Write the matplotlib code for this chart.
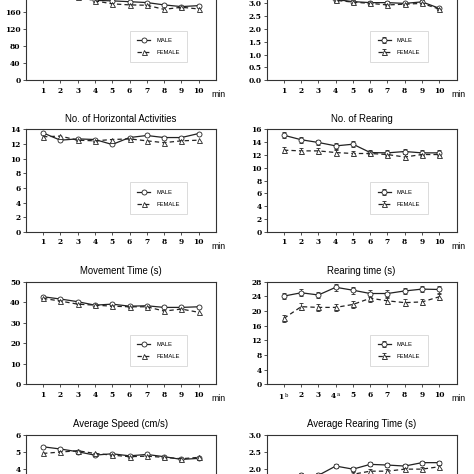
import matplotlib
matplotlib.use('Agg')
import matplotlib.pyplot as plt
import numpy as np

plt.rcParams['mathtext.fontset'] = 'dejavuserif'

minutes = [1, 2, 3, 4, 5, 6, 7, 8, 9, 10]
xtick_labels = ['1', '2', '3', '4', '5', '6', '7', '8', '9', '10']
xtick_labels_rt = ['1$^{\\ \\mathrm{b}}$', '2', '3', '4$^{\\ \\mathrm{a}}$', '5', '6', '7', '8', '9', '10']

# Row 1 (titles cropped out of view)
r1l_male = [218, 210, 200, 187, 186, 184, 182, 176.5, 172.5, 174.8]
r1l_female = [212, 205, 196, 186, 179, 176.5, 175.7, 166, 171, 167]

r1r_male = [3.6, 3.45, 3.32, 3.15, 3.07, 3.03, 3.03, 3.0, 3.06, 2.81]
r1r_female = [3.55, 3.4, 3.3, 3.12, 3.05, 3.0, 2.94, 2.97, 3.0, 2.78]
r1r_err = [0.08, 0.08, 0.08, 0.08, 0.06, 0.06, 0.06, 0.06, 0.06, 0.05]

# No. of Horizontal Activities
ha_male = [13.54, 12.54, 12.72, 12.63, 11.95, 12.9, 13.18, 12.9, 12.9, 13.45]
ha_female = [13.0, 13.1, 12.54, 12.45, 12.63, 12.72, 12.45, 12.2, 12.45, 12.54]

# No. of Rearing
nr_male = [15.1, 14.4, 13.97, 13.44, 13.7, 12.4, 12.35, 12.56, 12.35, 12.35]
nr_female = [12.77, 12.66, 12.66, 12.4, 12.25, 12.25, 12.09, 11.7, 12.09, 12.09]
nr_err = [0.45, 0.45, 0.45, 0.45, 0.45, 0.45, 0.45, 0.45, 0.45, 0.45]

# Movement Time (s)
mt_male = [42.7, 41.6, 40.3, 38.6, 39.1, 38.1, 38.3, 37.5, 37.5, 37.8]
mt_female = [41.9, 40.6, 39.1, 38.6, 38.1, 37.8, 37.8, 35.7, 36.7, 35.1]

# Rearing time (s)
rt_male = [24.1, 25.0, 24.4, 26.5, 25.7, 24.8, 24.8, 25.5, 26.0, 25.9]
rt_female = [18.0, 21.2, 21.0, 21.0, 21.8, 23.5, 22.8, 22.3, 22.5, 23.9]
rt_err = [0.9, 0.9, 0.9, 0.9, 0.9, 0.9, 0.9, 0.9, 0.9, 0.9]

# Average Speed (cm/s)
as_male = [5.31, 5.18, 5.02, 4.82, 4.9, 4.78, 4.86, 4.73, 4.57, 4.63]
as_female = [4.92, 5.0, 5.08, 4.92, 4.82, 4.73, 4.76, 4.69, 4.61, 4.69]

# Average Rearing Time (s)
art_male = [1.7, 1.83, 1.82, 2.09, 2.0, 2.14, 2.12, 2.09, 2.19, 2.19]
art_female = [1.6, 1.78, 1.7, 1.75, 1.85, 1.94, 1.94, 2.0, 2.0, 2.07]
art_err = [0.06, 0.06, 0.06, 0.06, 0.06, 0.06, 0.06, 0.06, 0.06, 0.06]

W = H = 474.0
fig = plt.figure(figsize=(4.74, 4.74), dpi=100)

col_x = [(25.7, 216.0), (266.7, 456.5)]
row_top = [-22.2, 129.5, 281.8, 435.0]
AX_H = 102.4

TICKFONT = dict(family='DejaVu Serif', weight='bold', size=5.4)
LINE_C = '#222222'


def make_ax(row, col):
    x0, x1 = col_x[col]
    top = row_top[row]
    return fig.add_axes([x0 / W, 1 - (top + AX_H) / H, (x1 - x0) / W, AX_H / H])


def draw(ax, male, female, ylim, ystep, yfmt, title=None, err=None,
         xlabels=xtick_labels, legend=True, label_range=None, show_x=True):
    if err is not None:
        ax.errorbar(minutes, male, yerr=err, color=LINE_C, lw=0.9, marker='o',
                    ms=3.6, mfc='white', mec=LINE_C, mew=0.6, capsize=1.6,
                    elinewidth=0.5, capthick=0.5, label='MALE', zorder=3)
        ax.errorbar(minutes, female, yerr=err, color=LINE_C, lw=0.9, ls=(0, (3.5, 2.5)),
                    marker='^', ms=3.6, mfc='white', mec=LINE_C, mew=0.6,
                    capsize=1.6, elinewidth=0.5, capthick=0.5, label='FEMALE', zorder=3)
    else:
        ax.plot(minutes, male, color=LINE_C, lw=0.9, marker='o', ms=3.6,
                mfc='white', mec=LINE_C, mew=0.6, label='MALE', zorder=3)
        ax.plot(minutes, female, color=LINE_C, lw=0.9, ls=(0, (3.5, 2.5)), marker='^',
                ms=3.6, mfc='white', mec=LINE_C, mew=0.6, label='FEMALE', zorder=3)
    ax.set_xlim(0, 11)
    ax.set_ylim(*ylim)
    ax.set_xticks(minutes)
    if show_x:
        ax.set_xticklabels(xlabels, fontdict=TICKFONT)
    else:
        ax.set_xticklabels([])
    yt = np.arange(ylim[0], ylim[1] + ystep / 2, ystep)
    ax.set_yticks(yt)
    lo, hi = label_range if label_range else (ylim[0], ylim[1])
    ax.set_yticklabels([yfmt.format(v) if lo - 1e-9 <= v <= hi + 1e-9 else ''
                        for v in yt], fontdict=TICKFONT)
    ax.tick_params(axis='both', direction='out', length=2.2, width=0.6, pad=1.5,
                   color='#333333')
    ax.tick_params(axis='x', pad=2.5)
    for s in ax.spines.values():
        s.set_linewidth(0.8)
        s.set_color('#333333')
    if title:
        ax.set_title(title, family='Liberation Sans', fontsize=6.9, pad=5.5)
    if show_x:
        ax.annotate('min', xy=(1.0, 0), xycoords='axes fraction', xytext=(1.5, -7.0),
                    textcoords='offset points', ha='center', va='top',
                    family='Liberation Sans', fontsize=6.3)
    if legend:
        leg = ax.legend(loc='lower right', bbox_to_anchor=(0.848, 0.173),
                        borderaxespad=0, prop=dict(family='Liberation Sans', size=4.2),
                        frameon=True, fancybox=False, handlelength=2.2,
                        handletextpad=1.0, borderpad=1.3, labelspacing=1.1,
                        numpoints=1)
        leg.get_frame().set_edgecolor('#cccccc')
        leg.get_frame().set_linewidth(0.6)


ax = make_ax(0, 0)
draw(ax, r1l_male, r1l_female, (0, 240), 40, '{:.0f}', label_range=(0, 160))
ax = make_ax(0, 1)
draw(ax, r1r_male, r1r_female, (0, 4.0), 0.5, '{:.1f}', err=r1r_err, label_range=(0, 3.0))

ax = make_ax(1, 0)
draw(ax, ha_male, ha_female, (0, 14), 2, '{:.0f}', title='No. of Horizontal Activities')
ax = make_ax(1, 1)
draw(ax, nr_male, nr_female, (0, 16), 2, '{:.0f}', title='No. of Rearing', err=nr_err)

ax = make_ax(2, 0)
draw(ax, mt_male, mt_female, (0, 50), 10, '{:.0f}', title='Movement Time (s)')
ax = make_ax(2, 1)
draw(ax, rt_male, rt_female, (0, 28), 4, '{:.0f}', title='Rearing time (s)', err=rt_err,
     xlabels=xtick_labels_rt)

ax = make_ax(3, 0)
draw(ax, as_male, as_female, (0, 6), 1, '{:.0f}', title='Average Speed (cm/s)', legend=False,
     label_range=(4, 6), show_x=False)
ax = make_ax(3, 1)
draw(ax, art_male, art_female, (0, 3.0), 0.5, '{:.1f}', title='Average Rearing Time (s)',
     err=art_err, legend=False, label_range=(2.0, 3.0), show_x=False)

fig.savefig('out.png', dpi=100)
